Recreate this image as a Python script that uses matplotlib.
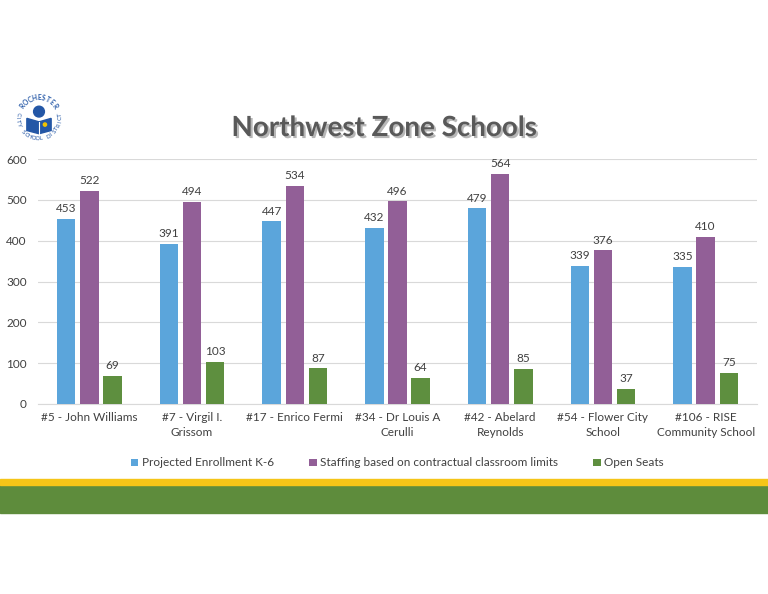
import numpy as np
import matplotlib.pyplot as plt
import matplotlib.patheffects as pe
from matplotlib.patches import Rectangle, Circle, Polygon

plt.rcParams['font.family'] = ['Lato', 'DejaVu Sans']

# data
schools = ['#5 - John Williams', '#7 - Virgil I.\nGrissom', '#17 - Enrico Fermi',
           '#34 - Dr Louis A\nCerulli', '#42 - Abelard\nReynolds', '#54 - Flower City\nSchool',
           '#106 - RISE\nCommunity School']
enrollment = [453, 391, 447, 432, 479, 339, 335]
staffing = [522, 494, 534, 496, 564, 376, 410]
open_seats = [69, 103, 87, 64, 85, 37, 75]
series_names = ['Projected Enrollment K-6', 'Staffing based on contractual classroom limits', 'Open Seats']
colors = ['#5BA5DB', '#925F97', '#5E8F3F']
yticks = [0, 100, 200, 300, 400, 500, 600]

fig = plt.figure(figsize=(7.68, 5.94), dpi=100)

# bottom bands of the slide
fig.patches.append(Rectangle((0, 1 - 513/594), 1, 29/594, transform=fig.transFigure,
                             color='#5E8C3C', zorder=0))
fig.patches.append(Rectangle((0, 1 - 485/594), 1, 6/594, transform=fig.transFigure,
                             color='#F5C518', zorder=0))

# title with shadow
fig.text(0.5, 1 - 128/594, 'Northwest Zone Schools', ha='center', va='center',
         fontsize=20, fontweight='bold', color='#595959',
         path_effects=[pe.withSimplePatchShadow(offset=(1.5, -1.5), shadow_rgbFace='#888888', alpha=0.6)])

# rough logo
lax = fig.add_axes([12/768, 1 - 144/594, 54/768, 54/594])
lax.set_xlim(-1, 1)
lax.set_ylim(-1, 1)
lax.set_aspect('equal')
lax.axis('off')
blue = '#2457A6'
lax.add_patch(Circle((0, 0.2), 0.2, color=blue))
lax.add_patch(Polygon([[-0.45, -0.05], [0, -0.18], [0.45, -0.05], [0.45, -0.5], [0, -0.62], [-0.45, -0.5]],
                      color=blue))
lax.plot([0, 0], [-0.18, -0.62], color='white', lw=0.8)
lax.add_patch(Circle((0.22, -0.28), 0.06, color='#F2C300'))
txt = 'ROCHESTER'
angs = np.linspace(145, 35, len(txt))
for ch, a in zip(txt, angs):
    r = np.radians(a)
    lax.text(0.72*np.cos(r), 0.72*np.sin(r), ch, ha='center', va='center', fontsize=4.8,
             fontweight='bold', color=blue, rotation=a - 90)
txt2 = 'CITY SCHOOL DISTRICT'
angs2 = np.linspace(172, 368, len(txt2))
for ch, a in zip(txt2, angs2):
    r = np.radians(a)
    lax.text(0.8*np.cos(r), 0.8*np.sin(r), ch, ha='center', va='center', fontsize=4.3,
             color=blue, rotation=a + 90)

# chart
ax = fig.add_axes([38/768, 1 - 404/594, 719/768, 245/594])
x = np.arange(len(schools))
w = 0.18
step = 0.225
for i, (vals, c, name) in enumerate(zip([enrollment, staffing, open_seats], colors, series_names)):
    bars = ax.bar(x + (i - 1)*step, vals, width=w, color=c, label=name, zorder=3)
    for b, v in zip(bars, vals):
        ax.text(b.get_x() + b.get_width()/2, v + 12, str(v), ha='center', va='bottom',
                fontsize=8.5, color='#404040')

ax.set_xlim(-0.5, len(schools) - 0.5)
ax.set_ylim(0, 600)
ax.set_yticks(yticks)
ax.set_xticks(x)
ax.set_xticklabels(schools, fontsize=8.5, color='#404040', linespacing=1.4)
ax.tick_params(axis='y', labelsize=8.5, labelcolor='#404040', length=0, pad=8)
ax.tick_params(axis='x', length=0, pad=6)
ax.grid(axis='y', color='#D9D9D9', lw=0.8, zorder=0)
for s in ['top', 'right', 'left']:
    ax.spines[s].set_visible(False)
ax.spines['bottom'].set_color('#D9D9D9')

ax.legend(loc='upper center', bbox_to_anchor=(0.5, -0.175), ncol=3, frameon=False,
          fontsize=8.5, handlelength=0.6, handleheight=0.6, handletextpad=0.3, columnspacing=3,
          labelcolor='#404040')

fig.savefig('out.png', dpi=100)
